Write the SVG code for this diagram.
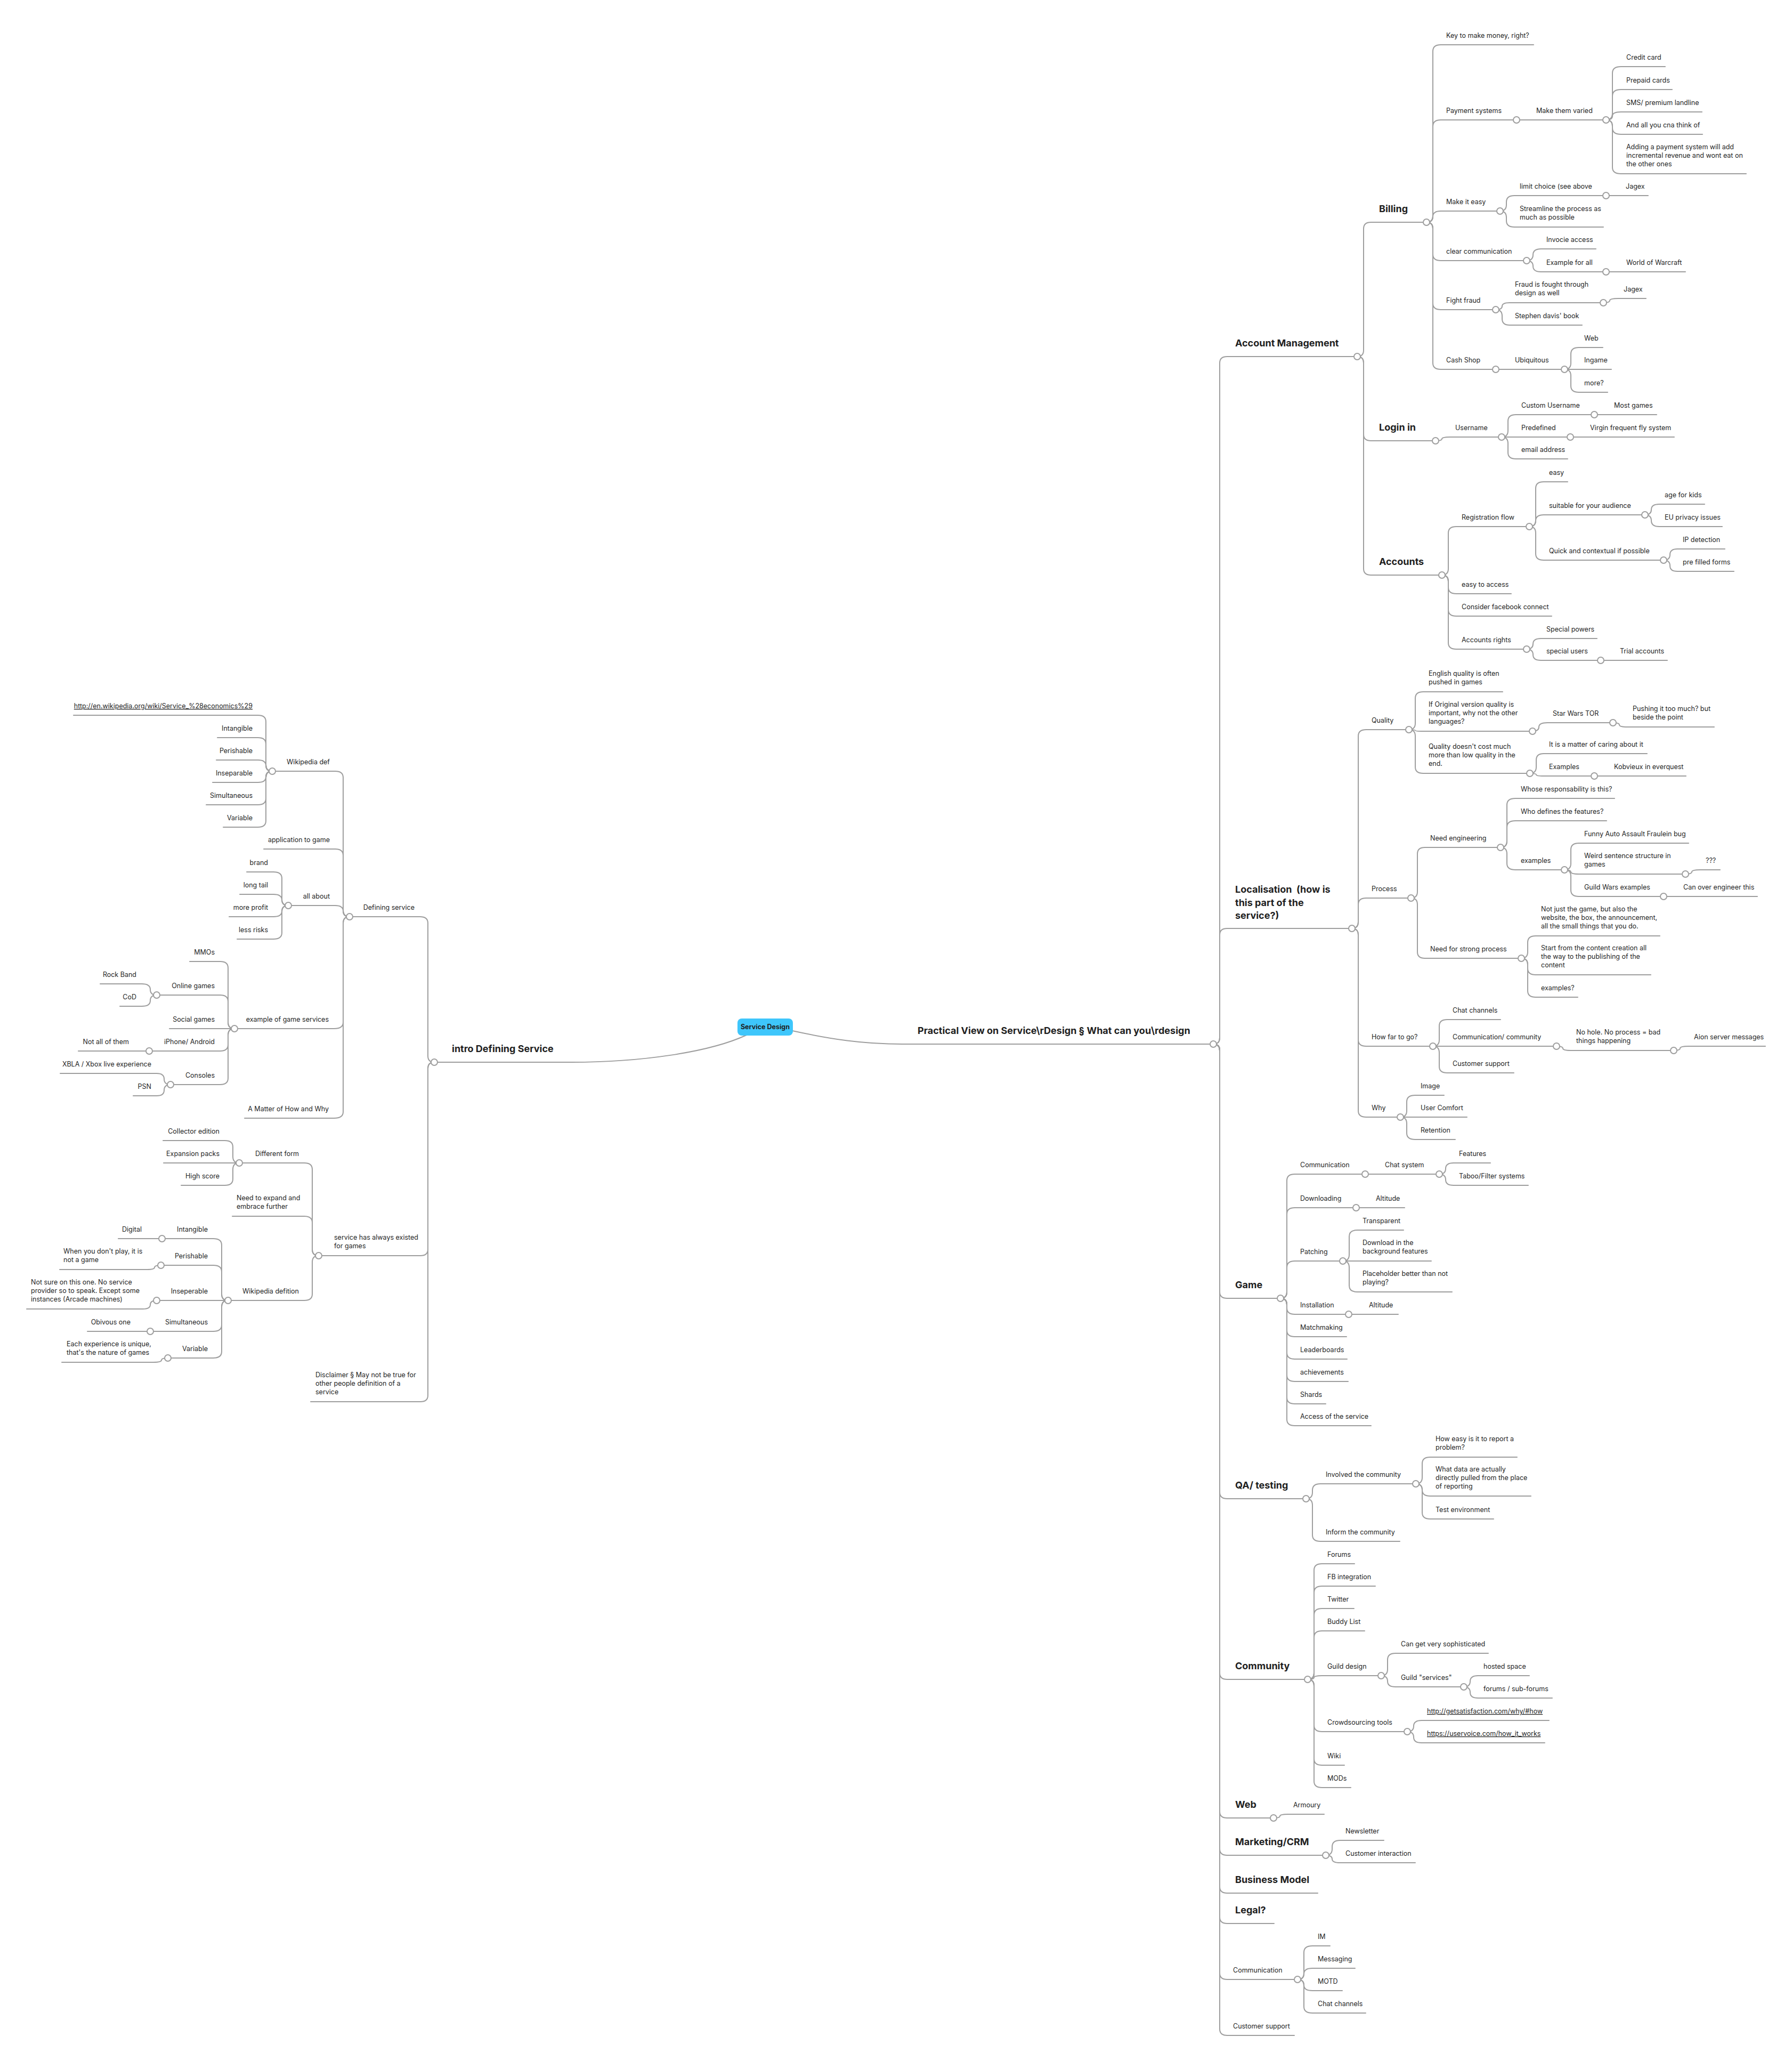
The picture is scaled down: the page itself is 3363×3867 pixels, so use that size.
<svg xmlns="http://www.w3.org/2000/svg" width="3363" height="3867" viewBox="0 0 3363 3867">
<style>
.t{font-family:Inter,"Liberation Sans",sans-serif;font-size:12.5px;fill:#1e1e1e}
.b{font-weight:700;font-size:18px}
.e{text-anchor:end}
.k{text-decoration:underline}
.l{stroke:#9e9e9e;stroke-width:2;fill:none;stroke-linecap:round}
.c{fill:#fff;stroke:#9e9e9e;stroke-width:2}
</style>
<rect width="3363" height="3867" fill="#fff"/>
<g id="connectors" class="l">
<path d="M1073 1993C1200 1993 1330 1975 1401 1942"/>
<path d="M1487 1934C1560 1950 1620 1959 1693 1959"/>
<path d="M2277 1959Q2289 1959 2289 1947L2289 681Q2289 669 2303 669"/>
<path d="M2277 1959Q2289 1959 2289 1947L2289 1754Q2289 1742 2303 1742"/>
<path d="M2277 1959Q2289 1959 2289 1971L2289 2424Q2289 2436 2303 2436"/>
<path d="M2277 1959Q2289 1959 2289 1971L2289 2800Q2289 2812 2303 2812"/>
<path d="M2277 1959Q2289 1959 2289 1971L2289 3139Q2289 3151 2303 3151"/>
<path d="M2277 1959Q2289 1959 2289 1971L2289 3399Q2289 3411 2303 3411"/>
<path d="M2277 1959Q2289 1959 2289 1971L2289 3469Q2289 3481 2303 3481"/>
<path d="M2277 1959Q2289 1959 2289 1971L2289 3540Q2289 3552 2303 3552"/>
<path d="M2277 1959Q2289 1959 2289 1971L2289 3597Q2289 3609 2303 3609"/>
<path d="M2277 1959Q2289 1959 2289 1971L2289 3702Q2289 3714 2303 3714"/>
<path d="M2277 1959Q2289 1959 2289 1971L2289 3807Q2289 3819 2303 3819"/>
<path d="M2547 669Q2559 669 2559 657L2559 429Q2559 417 2573 417"/>
<path d="M2547 669Q2559 669 2559 681L2559 815Q2559 827 2573 827"/>
<path d="M2547 669Q2559 669 2559 681L2559 1067Q2559 1079 2573 1079"/>
<path d="M2677 417Q2689 417 2689 405L2689 96Q2689 84 2704 84"/>
<path d="M2677 417Q2689 417 2689 405L2689 237Q2689 225 2704 225"/>
<path d="M2677 417Q2689 417 2689 406.5Q2689 396 2704 396"/>
<path d="M2677 417Q2689 417 2689 429L2689 477Q2689 489 2704 489"/>
<path d="M2677 417Q2689 417 2689 429L2689 569Q2689 581 2704 581"/>
<path d="M2677 417Q2689 417 2689 429L2689 681Q2689 693 2704 693"/>
<path d="M2846 225L2873 225"/>
<path d="M3014 225Q3026 225 3026 213L3026 137Q3026 125 3042 125"/>
<path d="M3014 225Q3026 225 3026 213L3026 180Q3026 168 3042 168"/>
<path d="M3014 225Q3026 225 3026 217.5Q3026 210 3042 210"/>
<path d="M3014 225Q3026 225 3026 237L3026 240Q3026 252 3042 252"/>
<path d="M3014 225Q3026 225 3026 237L3026 314Q3026 326 3042 326"/>
<path d="M2815 396Q2827 396 2827 384L2827 379Q2827 367 2842 367"/>
<path d="M2815 396Q2827 396 2827 408L2827 414Q2827 426 2842 426"/>
<path d="M3014 367L3041 367"/>
<path d="M2865 489Q2877 489 2877 478Q2877 467 2892 467"/>
<path d="M2865 489Q2877 489 2877 499.5Q2877 510 2892 510"/>
<path d="M3014 510L3042 510"/>
<path d="M2807 581Q2819 581 2819 574.5Q2819 568 2833 568"/>
<path d="M2807 581Q2819 581 2819 593L2819 598Q2819 610 2833 610"/>
<path d="M3009 568Q3021 568 3021 564Q3021 560 3037 560"/>
<path d="M2807 693L2833 693"/>
<path d="M2936 693Q2948 693 2948 681L2948 664Q2948 652 2963 652"/>
<path d="M2936 693L2963 693"/>
<path d="M2936 693Q2948 693 2948 705L2948 724Q2948 736 2963 736"/>
<path d="M2694 827Q2706 827 2706 823.5Q2706 820 2721 820"/>
<path d="M2818 820Q2830 820 2830 808L2830 790Q2830 778 2845 778"/>
<path d="M2818 820L2845 820"/>
<path d="M2818 820Q2830 820 2830 832L2830 849Q2830 861 2845 861"/>
<path d="M2992 778L3019 778"/>
<path d="M2947 820L2974 820"/>
<path d="M2706 1079Q2718 1079 2718 1067L2718 1000Q2718 988 2733 988"/>
<path d="M2706 1079Q2718 1079 2718 1091L2718 1102Q2718 1114 2733 1114"/>
<path d="M2706 1079Q2718 1079 2718 1091L2718 1144Q2718 1156 2733 1156"/>
<path d="M2706 1079Q2718 1079 2718 1091L2718 1206Q2718 1218 2733 1218"/>
<path d="M2870 988Q2882 988 2882 976L2882 916Q2882 904 2897 904"/>
<path d="M2870 988Q2882 988 2882 977Q2882 966 2897 966"/>
<path d="M2870 988Q2882 988 2882 1000L2882 1039Q2882 1051 2897 1051"/>
<path d="M3087 966Q3099 966 3099 956Q3099 946 3114 946"/>
<path d="M3087 966Q3099 966 3099 977Q3099 988 3114 988"/>
<path d="M3122 1051Q3134 1051 3134 1040.5Q3134 1030 3148 1030"/>
<path d="M3122 1051Q3134 1051 3134 1061.5Q3134 1072 3148 1072"/>
<path d="M2865 1218Q2877 1218 2877 1208Q2877 1198 2892 1198"/>
<path d="M2865 1218Q2877 1218 2877 1228.5Q2877 1239 2892 1239"/>
<path d="M3004 1239L3030 1239"/>
<path d="M2537 1742Q2549 1742 2549 1730L2549 1381Q2549 1369 2564 1369"/>
<path d="M2537 1742Q2549 1742 2549 1730L2549 1697Q2549 1685 2564 1685"/>
<path d="M2537 1742Q2549 1742 2549 1754L2549 1951Q2549 1963 2564 1963"/>
<path d="M2537 1742Q2549 1742 2549 1754L2549 2084Q2549 2096 2564 2096"/>
<path d="M2644 1369Q2656 1369 2656 1357L2656 1310Q2656 1298 2671 1298"/>
<path d="M2644 1369Q2656 1369 2656 1370.5Q2656 1372 2671 1372"/>
<path d="M2644 1369Q2656 1369 2656 1381L2656 1439Q2656 1451 2671 1451"/>
<path d="M2876 1372Q2888 1372 2888 1364Q2888 1356 2904 1356"/>
<path d="M3027 1356Q3039 1356 3039 1360Q3039 1364 3054 1364"/>
<path d="M2871 1451Q2883 1451 2883 1439L2883 1426Q2883 1414 2897 1414"/>
<path d="M2871 1451Q2883 1451 2883 1453.5Q2883 1456 2897 1456"/>
<path d="M2992 1456L3019 1456"/>
<path d="M2648 1685Q2660 1685 2660 1673L2660 1602Q2660 1590 2674 1590"/>
<path d="M2648 1685Q2660 1685 2660 1697L2660 1786Q2660 1798 2674 1798"/>
<path d="M2816 1590Q2828 1590 2828 1578L2828 1510Q2828 1498 2844 1498"/>
<path d="M2816 1590Q2828 1590 2828 1578L2828 1552Q2828 1540 2844 1540"/>
<path d="M2816 1590Q2828 1590 2828 1602L2828 1620Q2828 1632 2844 1632"/>
<path d="M2936 1632Q2948 1632 2948 1620L2948 1594Q2948 1582 2963 1582"/>
<path d="M2936 1632Q2948 1632 2948 1636Q2948 1640 2963 1640"/>
<path d="M2936 1632Q2948 1632 2948 1644L2948 1670Q2948 1682 2963 1682"/>
<path d="M3163 1640Q3175 1640 3175 1636Q3175 1632 3191 1632"/>
<path d="M3122 1682L3149 1682"/>
<path d="M2855 1798Q2867 1798 2867 1786L2867 1768Q2867 1756 2882 1756"/>
<path d="M2855 1798Q2867 1798 2867 1810L2867 1817Q2867 1829 2882 1829"/>
<path d="M2855 1798Q2867 1798 2867 1810L2867 1859Q2867 1871 2882 1871"/>
<path d="M2689 1963Q2701 1963 2701 1951L2701 1925Q2701 1913 2716 1913"/>
<path d="M2689 1963L2716 1963"/>
<path d="M2689 1963Q2701 1963 2701 1975L2701 2001Q2701 2013 2716 2013"/>
<path d="M2921 1963Q2933 1963 2933 1967Q2933 1971 2948 1971"/>
<path d="M3141 1971Q3153 1971 3153 1967Q3153 1963 3169 1963"/>
<path d="M2628 2096Q2640 2096 2640 2084L2640 2067Q2640 2055 2656 2055"/>
<path d="M2628 2096L2656 2096"/>
<path d="M2628 2096Q2640 2096 2640 2108L2640 2126Q2640 2138 2656 2138"/>
<path d="M2403 2436Q2415 2436 2415 2424L2415 2215Q2415 2203 2430 2203"/>
<path d="M2403 2436Q2415 2436 2415 2424L2415 2278Q2415 2266 2430 2266"/>
<path d="M2403 2436Q2415 2436 2415 2424L2415 2378Q2415 2366 2430 2366"/>
<path d="M2403 2436Q2415 2436 2415 2448L2415 2454Q2415 2466 2430 2466"/>
<path d="M2403 2436Q2415 2436 2415 2448L2415 2496Q2415 2508 2430 2508"/>
<path d="M2403 2436Q2415 2436 2415 2448L2415 2538Q2415 2550 2430 2550"/>
<path d="M2403 2436Q2415 2436 2415 2448L2415 2580Q2415 2592 2430 2592"/>
<path d="M2403 2436Q2415 2436 2415 2448L2415 2622Q2415 2634 2430 2634"/>
<path d="M2403 2436Q2415 2436 2415 2448L2415 2663Q2415 2675 2430 2675"/>
<path d="M2562 2203L2589 2203"/>
<path d="M2701 2203Q2713 2203 2713 2192.5Q2713 2182 2728 2182"/>
<path d="M2701 2203Q2713 2203 2713 2213.5Q2713 2224 2728 2224"/>
<path d="M2545 2266L2572 2266"/>
<path d="M2520 2366Q2532 2366 2532 2354L2532 2320Q2532 2308 2547 2308"/>
<path d="M2520 2366L2547 2366"/>
<path d="M2520 2366Q2532 2366 2532 2378L2532 2412Q2532 2424 2547 2424"/>
<path d="M2531 2466L2559 2466"/>
<path d="M2451 2812Q2463 2812 2463 2800L2463 2796Q2463 2784 2478 2784"/>
<path d="M2451 2812Q2463 2812 2463 2824L2463 2880Q2463 2892 2478 2892"/>
<path d="M2657 2784Q2669 2784 2669 2772L2669 2746Q2669 2734 2684 2734"/>
<path d="M2657 2784Q2669 2784 2669 2795.5Q2669 2807 2684 2807"/>
<path d="M2657 2784Q2669 2784 2669 2796L2669 2838Q2669 2850 2684 2850"/>
<path d="M2454 3151Q2466 3151 2466 3139L2466 2946Q2466 2934 2481 2934"/>
<path d="M2454 3151Q2466 3151 2466 3139L2466 2988Q2466 2976 2481 2976"/>
<path d="M2454 3151Q2466 3151 2466 3139L2466 3030Q2466 3018 2481 3018"/>
<path d="M2454 3151Q2466 3151 2466 3139L2466 3072Q2466 3060 2481 3060"/>
<path d="M2454 3151Q2466 3151 2466 3147.5Q2466 3144 2481 3144"/>
<path d="M2454 3151Q2466 3151 2466 3163L2466 3237Q2466 3249 2481 3249"/>
<path d="M2454 3151Q2466 3151 2466 3163L2466 3300Q2466 3312 2481 3312"/>
<path d="M2454 3151Q2466 3151 2466 3163L2466 3342Q2466 3354 2481 3354"/>
<path d="M2592 3144Q2604 3144 2604 3132L2604 3114Q2604 3102 2619 3102"/>
<path d="M2592 3144Q2604 3144 2604 3154.5Q2604 3165 2619 3165"/>
<path d="M2747 3165Q2759 3165 2759 3154.5Q2759 3144 2774 3144"/>
<path d="M2747 3165Q2759 3165 2759 3175.5Q2759 3186 2774 3186"/>
<path d="M2641 3249Q2653 3249 2653 3238.5Q2653 3228 2668 3228"/>
<path d="M2641 3249Q2653 3249 2653 3259.5Q2653 3270 2668 3270"/>
<path d="M2390 3411Q2402 3411 2402 3407.5Q2402 3404 2417 3404"/>
<path d="M2488 3481Q2500 3481 2500 3469L2500 3465Q2500 3453 2515 3453"/>
<path d="M2488 3481Q2500 3481 2500 3488Q2500 3495 2515 3495"/>
<path d="M2435 3714Q2447 3714 2447 3702L2447 3663Q2447 3651 2463 3651"/>
<path d="M2435 3714Q2447 3714 2447 3703.5Q2447 3693 2463 3693"/>
<path d="M2435 3714Q2447 3714 2447 3724.5Q2447 3735 2463 3735"/>
<path d="M2435 3714Q2447 3714 2447 3726L2447 3765Q2447 3777 2463 3777"/>
<path d="M815 1993Q803 1993 803 1981L803 1732Q803 1720 788 1720"/>
<path d="M815 1993Q803 1993 803 2005L803 2344Q803 2356 789 2356"/>
<path d="M815 1993Q803 1993 803 2005L803 2618Q803 2630 789 2630"/>
<path d="M656 1720Q644 1720 644 1708L644 1459Q644 1447 629 1447"/>
<path d="M656 1720Q644 1720 644 1708L644 1605Q644 1593 629 1593"/>
<path d="M656 1720Q644 1720 644 1709.5Q644 1699 629 1699"/>
<path d="M656 1720Q644 1720 644 1732L644 1918Q644 1930 627 1930"/>
<path d="M656 1720Q644 1720 644 1732L644 2086Q644 2098 627 2098"/>
<path d="M511 1447Q499 1447 499 1435L499 1354Q499 1342 484 1342"/>
<path d="M511 1447Q499 1447 499 1435L499 1396Q499 1384 484 1384"/>
<path d="M511 1447Q499 1447 499 1436.5Q499 1426 484 1426"/>
<path d="M511 1447Q499 1447 499 1457.5Q499 1468 484 1468"/>
<path d="M511 1447Q499 1447 499 1459L499 1498Q499 1510 484 1510"/>
<path d="M511 1447Q499 1447 499 1459L499 1540Q499 1552 484 1552"/>
<path d="M541 1699Q529 1699 529 1687L529 1648Q529 1636 513 1636"/>
<path d="M541 1699Q529 1699 529 1688.5Q529 1678 513 1678"/>
<path d="M541 1699Q529 1699 529 1709.5Q529 1720 513 1720"/>
<path d="M541 1699Q529 1699 529 1711L529 1750Q529 1762 513 1762"/>
<path d="M440 1930Q428 1930 428 1918L428 1816Q428 1804 413 1804"/>
<path d="M440 1930Q428 1930 428 1918L428 1879Q428 1867 413 1867"/>
<path d="M440 1930L413 1930"/>
<path d="M440 1930Q428 1930 428 1942L428 1960Q428 1972 413 1972"/>
<path d="M440 1930Q428 1930 428 1942L428 2023Q428 2035 413 2035"/>
<path d="M294 1867Q282 1867 282 1856.5Q282 1846 266 1846"/>
<path d="M294 1867Q282 1867 282 1877.5Q282 1888 266 1888"/>
<path d="M280 1972L252 1972"/>
<path d="M320 2035Q308 2035 308 2024.5Q308 2014 294 2014"/>
<path d="M320 2035Q308 2035 308 2045.5Q308 2056 294 2056"/>
<path d="M598 2356Q586 2356 586 2344L586 2194Q586 2182 571 2182"/>
<path d="M598 2356Q586 2356 586 2344L586 2294Q586 2282 571 2282"/>
<path d="M598 2356Q586 2356 586 2368L586 2428Q586 2440 571 2440"/>
<path d="M449 2182Q437 2182 437 2170L437 2152Q437 2140 422 2140"/>
<path d="M449 2182L422 2182"/>
<path d="M449 2182Q437 2182 437 2194L437 2212Q437 2224 422 2224"/>
<path d="M428 2440Q416 2440 416 2428L416 2336Q416 2324 400 2324"/>
<path d="M428 2440Q416 2440 416 2428L416 2386Q416 2374 400 2374"/>
<path d="M428 2440L400 2440"/>
<path d="M428 2440Q416 2440 416 2452L416 2486Q416 2498 400 2498"/>
<path d="M428 2440Q416 2440 416 2452L416 2536Q416 2548 400 2548"/>
<path d="M304 2324L276 2324"/>
<path d="M302 2374Q290 2374 290 2378Q290 2382 276 2382"/>
<path d="M294 2440Q282 2440 282 2448Q282 2456 268 2456"/>
<path d="M282 2498L255 2498"/>
<path d="M315 2548Q303 2548 303 2552Q303 2556 288 2556"/>
</g>
<g id="n-root"><rect x="1384" y="1911" width="104" height="32" rx="8" fill="#3ec6fb"/><text class="t b" x="1436" y="1931" text-anchor="middle" style="font-size:12.5px">Service Design</text></g>
<g id="n-practical"><line class="l" x1="1693" y1="1959" x2="2277" y2="1959"/><text class="t b" x="1722" y="1940">Practical View on Service\rDesign § What can you\rdesign</text><circle class="c" cx="2277" cy="1959" r="6"/></g>
<g id="n-accmgmt"><line class="l" x1="2303" y1="669" x2="2547" y2="669"/><text class="t b" x="2318" y="650">Account Management</text><circle class="c" cx="2547" cy="669" r="6"/></g>
<g id="n-billing"><line class="l" x1="2573" y1="417" x2="2677" y2="417"/><text class="t b" x="2588" y="398">Billing</text><circle class="c" cx="2677" cy="417" r="6"/></g>
<g id="n-key"><line class="l" x1="2704" y1="84" x2="2878" y2="84"/><text class="t" x="2714" y="71">Key to make money, right?</text></g>
<g id="n-payment"><line class="l" x1="2704" y1="225" x2="2846" y2="225"/><text class="t" x="2714" y="212">Payment systems</text><circle class="c" cx="2846" cy="225" r="6"/></g>
<g id="n-varied"><line class="l" x1="2873" y1="225" x2="3014" y2="225"/><text class="t" x="2883" y="212">Make them varied</text><circle class="c" cx="3014" cy="225" r="6"/></g>
<g id="n-credit"><line class="l" x1="3042" y1="125" x2="3125" y2="125"/><text class="t" x="3052" y="112">Credit card</text></g>
<g id="n-prepaid"><line class="l" x1="3042" y1="168" x2="3138" y2="168"/><text class="t" x="3052" y="155">Prepaid cards</text></g>
<g id="n-sms"><line class="l" x1="3042" y1="210" x2="3194" y2="210"/><text class="t" x="3052" y="197">SMS/ premium landline</text></g>
<g id="n-allyou"><line class="l" x1="3042" y1="252" x2="3195" y2="252"/><text class="t" x="3052" y="239">And all you cna think of</text></g>
<g id="n-adding"><line class="l" x1="3042" y1="326" x2="3277" y2="326"/><text class="t" x="3052" y="280"><tspan x="3052">Adding a payment system will add</tspan><tspan x="3052" dy="16">incremental revenue and wont eat on</tspan><tspan x="3052" dy="16">the other ones</tspan></text></g>
<g id="n-easy"><line class="l" x1="2704" y1="396" x2="2815" y2="396"/><text class="t" x="2714" y="383">Make it easy</text><circle class="c" cx="2815" cy="396" r="6"/></g>
<g id="n-limit"><line class="l" x1="2842" y1="367" x2="3014" y2="367"/><text class="t" x="2852" y="354">limit choice (see above</text><circle class="c" cx="3014" cy="367" r="6"/></g>
<g id="n-jagex1"><line class="l" x1="3041" y1="367" x2="3093" y2="367"/><text class="t" x="3051" y="354">Jagex</text></g>
<g id="n-streamline"><line class="l" x1="2842" y1="426" x2="3009" y2="426"/><text class="t" x="2852" y="396"><tspan x="2852">Streamline the process as</tspan><tspan x="2852" dy="16">much as possible</tspan></text></g>
<g id="n-clear"><line class="l" x1="2704" y1="489" x2="2865" y2="489"/><text class="t" x="2714" y="476">clear communication</text><circle class="c" cx="2865" cy="489" r="6"/></g>
<g id="n-invoice"><line class="l" x1="2892" y1="467" x2="2995" y2="467"/><text class="t" x="2902" y="454">Invocie access</text></g>
<g id="n-example"><line class="l" x1="2892" y1="510" x2="3014" y2="510"/><text class="t" x="2902" y="497">Example for all</text><circle class="c" cx="3014" cy="510" r="6"/></g>
<g id="n-wow"><line class="l" x1="3042" y1="510" x2="3163" y2="510"/><text class="t" x="3052" y="497">World of Warcraft</text></g>
<g id="n-fraud"><line class="l" x1="2704" y1="581" x2="2807" y2="581"/><text class="t" x="2714" y="568">Fight fraud</text><circle class="c" cx="2807" cy="581" r="6"/></g>
<g id="n-fought"><line class="l" x1="2833" y1="568" x2="3009" y2="568"/><text class="t" x="2843" y="538"><tspan x="2843">Fraud is fought through</tspan><tspan x="2843" dy="16">design as well</tspan></text><circle class="c" cx="3009" cy="568" r="6"/></g>
<g id="n-jagex2"><line class="l" x1="3037" y1="560" x2="3089" y2="560"/><text class="t" x="3047" y="547">Jagex</text></g>
<g id="n-stephen"><line class="l" x1="2833" y1="610" x2="2969" y2="610"/><text class="t" x="2843" y="597">Stephen davis' book</text></g>
<g id="n-cashshop"><line class="l" x1="2704" y1="693" x2="2807" y2="693"/><text class="t" x="2714" y="680">Cash Shop</text><circle class="c" cx="2807" cy="693" r="6"/></g>
<g id="n-ubiq"><line class="l" x1="2833" y1="693" x2="2936" y2="693"/><text class="t" x="2843" y="680">Ubiquitous</text><circle class="c" cx="2936" cy="693" r="6"/></g>
<g id="n-web1"><line class="l" x1="2963" y1="652" x2="3008" y2="652"/><text class="t" x="2973" y="639">Web</text></g>
<g id="n-ingame"><line class="l" x1="2963" y1="693" x2="3024" y2="693"/><text class="t" x="2973" y="680">Ingame</text></g>
<g id="n-more"><line class="l" x1="2963" y1="736" x2="3017" y2="736"/><text class="t" x="2973" y="723">more?</text></g>
<g id="n-login"><line class="l" x1="2573" y1="827" x2="2694" y2="827"/><text class="t b" x="2588" y="808">Login in</text><circle class="c" cx="2694" cy="827" r="6"/></g>
<g id="n-username"><line class="l" x1="2721" y1="820" x2="2818" y2="820"/><text class="t" x="2731" y="807">Username</text><circle class="c" cx="2818" cy="820" r="6"/></g>
<g id="n-custom"><line class="l" x1="2845" y1="778" x2="2992" y2="778"/><text class="t" x="2855" y="765">Custom Username</text><circle class="c" cx="2992" cy="778" r="6"/></g>
<g id="n-most"><line class="l" x1="3019" y1="778" x2="3109" y2="778"/><text class="t" x="3029" y="765">Most games</text></g>
<g id="n-predef"><line class="l" x1="2845" y1="820" x2="2947" y2="820"/><text class="t" x="2855" y="807">Predefined</text><circle class="c" cx="2947" cy="820" r="6"/></g>
<g id="n-virgin"><line class="l" x1="2974" y1="820" x2="3142" y2="820"/><text class="t" x="2984" y="807">Virgin frequent fly system</text></g>
<g id="n-email"><line class="l" x1="2845" y1="861" x2="2942" y2="861"/><text class="t" x="2855" y="848">email address</text></g>
<g id="n-accounts"><line class="l" x1="2573" y1="1079" x2="2706" y2="1079"/><text class="t b" x="2588" y="1060">Accounts</text><circle class="c" cx="2706" cy="1079" r="6"/></g>
<g id="n-reg"><line class="l" x1="2733" y1="988" x2="2870" y2="988"/><text class="t" x="2743" y="975">Registration flow</text><circle class="c" cx="2870" cy="988" r="6"/></g>
<g id="n-easy2"><line class="l" x1="2897" y1="904" x2="2942" y2="904"/><text class="t" x="2907" y="891">easy</text></g>
<g id="n-suitable"><line class="l" x1="2897" y1="966" x2="3087" y2="966"/><text class="t" x="2907" y="953">suitable for your audience</text><circle class="c" cx="3087" cy="966" r="6"/></g>
<g id="n-age"><line class="l" x1="3114" y1="946" x2="3199" y2="946"/><text class="t" x="3124" y="933">age for kids</text></g>
<g id="n-eu"><line class="l" x1="3114" y1="988" x2="3232" y2="988"/><text class="t" x="3124" y="975">EU privacy issues</text></g>
<g id="n-quick"><line class="l" x1="2897" y1="1051" x2="3122" y2="1051"/><text class="t" x="2907" y="1038">Quick and contextual if possible</text><circle class="c" cx="3122" cy="1051" r="6"/></g>
<g id="n-ip"><line class="l" x1="3148" y1="1030" x2="3237" y2="1030"/><text class="t" x="3158" y="1017">IP detection</text></g>
<g id="n-prefill"><line class="l" x1="3148" y1="1072" x2="3254" y2="1072"/><text class="t" x="3158" y="1059">pre filled forms</text></g>
<g id="n-easyaccess"><line class="l" x1="2733" y1="1114" x2="2836" y2="1114"/><text class="t" x="2743" y="1101">easy to access</text></g>
<g id="n-facebook"><line class="l" x1="2733" y1="1156" x2="2912" y2="1156"/><text class="t" x="2743" y="1143">Consider facebook connect</text></g>
<g id="n-rights"><line class="l" x1="2733" y1="1218" x2="2865" y2="1218"/><text class="t" x="2743" y="1205">Accounts rights</text><circle class="c" cx="2865" cy="1218" r="6"/></g>
<g id="n-powers"><line class="l" x1="2892" y1="1198" x2="2997" y2="1198"/><text class="t" x="2902" y="1185">Special powers</text></g>
<g id="n-specialusers"><line class="l" x1="2892" y1="1239" x2="3004" y2="1239"/><text class="t" x="2902" y="1226">special users</text><circle class="c" cx="3004" cy="1239" r="6"/></g>
<g id="n-trial"><line class="l" x1="3030" y1="1239" x2="3129" y2="1239"/><text class="t" x="3040" y="1226">Trial accounts</text></g>
<g id="n-local"><line class="l" x1="2303" y1="1742" x2="2537" y2="1742"/><text class="t b" x="2318" y="1675" xml:space="preserve"><tspan x="2318">Localisation  (how is</tspan><tspan x="2318" dy="24.5">this part of the</tspan><tspan x="2318" dy="24.5">service?)</tspan></text><circle class="c" cx="2537" cy="1742" r="6"/></g>
<g id="n-quality"><line class="l" x1="2564" y1="1369" x2="2644" y2="1369"/><text class="t" x="2574" y="1356">Quality</text><circle class="c" cx="2644" cy="1369" r="6"/></g>
<g id="n-english"><line class="l" x1="2671" y1="1298" x2="2820" y2="1298"/><text class="t" x="2681" y="1268"><tspan x="2681">English quality is often</tspan><tspan x="2681" dy="16">pushed in games</tspan></text></g>
<g id="n-original"><line class="l" x1="2671" y1="1372" x2="2876" y2="1372"/><text class="t" x="2681" y="1326"><tspan x="2681">If Original version quality is</tspan><tspan x="2681" dy="16">important, why not the other</tspan><tspan x="2681" dy="16">languages?</tspan></text><circle class="c" cx="2876" cy="1372" r="6"/></g>
<g id="n-swtor"><line class="l" x1="2904" y1="1356" x2="3027" y2="1356"/><text class="t" x="2914" y="1343">Star Wars TOR</text><circle class="c" cx="3027" cy="1356" r="6"/></g>
<g id="n-pushing"><line class="l" x1="3054" y1="1364" x2="3217" y2="1364"/><text class="t" x="3064" y="1334"><tspan x="3064">Pushing it too much? but</tspan><tspan x="3064" dy="16">beside the point</tspan></text></g>
<g id="n-qcost"><line class="l" x1="2671" y1="1451" x2="2871" y2="1451"/><text class="t" x="2681" y="1405"><tspan x="2681">Quality doesn't cost much</tspan><tspan x="2681" dy="16">more than low quality in the</tspan><tspan x="2681" dy="16">end.</tspan></text><circle class="c" cx="2871" cy="1451" r="6"/></g>
<g id="n-caring"><line class="l" x1="2897" y1="1414" x2="3091" y2="1414"/><text class="t" x="2907" y="1401">It is a matter of caring about it</text></g>
<g id="n-examples1"><line class="l" x1="2897" y1="1456" x2="2992" y2="1456"/><text class="t" x="2907" y="1443">Examples</text><circle class="c" cx="2992" cy="1456" r="6"/></g>
<g id="n-kobvieux"><line class="l" x1="3019" y1="1456" x2="3164" y2="1456"/><text class="t" x="3029" y="1443">Kobvieux in everquest</text></g>
<g id="n-process"><line class="l" x1="2564" y1="1685" x2="2648" y2="1685"/><text class="t" x="2574" y="1672">Process</text><circle class="c" cx="2648" cy="1685" r="6"/></g>
<g id="n-needeng"><line class="l" x1="2674" y1="1590" x2="2816" y2="1590"/><text class="t" x="2684" y="1577">Need engineering</text><circle class="c" cx="2816" cy="1590" r="6"/></g>
<g id="n-whose"><line class="l" x1="2844" y1="1498" x2="3030" y2="1498"/><text class="t" x="2854" y="1485">Whose responsability is this?</text></g>
<g id="n-whodef"><line class="l" x1="2844" y1="1540" x2="3015" y2="1540"/><text class="t" x="2854" y="1527">Who defines the features?</text></g>
<g id="n-examples2"><line class="l" x1="2844" y1="1632" x2="2936" y2="1632"/><text class="t" x="2854" y="1619">examples</text><circle class="c" cx="2936" cy="1632" r="6"/></g>
<g id="n-funny"><line class="l" x1="2963" y1="1582" x2="3169" y2="1582"/><text class="t" x="2973" y="1569">Funny Auto Assault Fraulein bug</text></g>
<g id="n-weird"><line class="l" x1="2963" y1="1640" x2="3163" y2="1640"/><text class="t" x="2973" y="1610"><tspan x="2973">Weird sentence structure in</tspan><tspan x="2973" dy="16">games</tspan></text><circle class="c" cx="3163" cy="1640" r="6"/></g>
<g id="n-qqq"><line class="l" x1="3191" y1="1632" x2="3228" y2="1632"/><text class="t" x="3201" y="1619">???</text></g>
<g id="n-guildwars"><line class="l" x1="2963" y1="1682" x2="3122" y2="1682"/><text class="t" x="2973" y="1669">Guild Wars examples</text><circle class="c" cx="3122" cy="1682" r="6"/></g>
<g id="n-overeng"><line class="l" x1="3149" y1="1682" x2="3298" y2="1682"/><text class="t" x="3159" y="1669">Can over engineer this</text></g>
<g id="n-strong"><line class="l" x1="2674" y1="1798" x2="2855" y2="1798"/><text class="t" x="2684" y="1785">Need for strong process</text><circle class="c" cx="2855" cy="1798" r="6"/></g>
<g id="n-notjust"><line class="l" x1="2882" y1="1756" x2="3115" y2="1756"/><text class="t" x="2892" y="1710"><tspan x="2892">Not just the game, but also the</tspan><tspan x="2892" dy="16">website, the box, the announcement,</tspan><tspan x="2892" dy="16">all the small things that you do.</tspan></text></g>
<g id="n-startfrom"><line class="l" x1="2882" y1="1829" x2="3098" y2="1829"/><text class="t" x="2892" y="1783"><tspan x="2892">Start from the content creation all</tspan><tspan x="2892" dy="16">the way to the publishing of the</tspan><tspan x="2892" dy="16">content</tspan></text></g>
<g id="n-examples3"><line class="l" x1="2882" y1="1871" x2="2961" y2="1871"/><text class="t" x="2892" y="1858">examples?</text></g>
<g id="n-howfar"><line class="l" x1="2564" y1="1963" x2="2689" y2="1963"/><text class="t" x="2574" y="1950">How far to go?</text><circle class="c" cx="2689" cy="1963" r="6"/></g>
<g id="n-chatch1"><line class="l" x1="2716" y1="1913" x2="2816" y2="1913"/><text class="t" x="2726" y="1900">Chat channels</text></g>
<g id="n-commcomm"><line class="l" x1="2716" y1="1963" x2="2921" y2="1963"/><text class="t" x="2726" y="1950">Communication/ community</text><circle class="c" cx="2921" cy="1963" r="6"/></g>
<g id="n-nohole"><line class="l" x1="2948" y1="1971" x2="3141" y2="1971"/><text class="t" x="2958" y="1941"><tspan x="2958">No hole. No process = bad</tspan><tspan x="2958" dy="16">things happening</tspan></text><circle class="c" cx="3141" cy="1971" r="6"/></g>
<g id="n-aion"><line class="l" x1="3169" y1="1963" x2="3313" y2="1963"/><text class="t" x="3179" y="1950">Aion server messages</text></g>
<g id="n-custsup1"><line class="l" x1="2716" y1="2013" x2="2841" y2="2013"/><text class="t" x="2726" y="2000">Customer support</text></g>
<g id="n-why"><line class="l" x1="2564" y1="2096" x2="2628" y2="2096"/><text class="t" x="2574" y="2083">Why</text><circle class="c" cx="2628" cy="2096" r="6"/></g>
<g id="n-image"><line class="l" x1="2656" y1="2055" x2="2710" y2="2055"/><text class="t" x="2666" y="2042">Image</text></g>
<g id="n-comfort"><line class="l" x1="2656" y1="2096" x2="2753" y2="2096"/><text class="t" x="2666" y="2083">User Comfort</text></g>
<g id="n-retention"><line class="l" x1="2656" y1="2138" x2="2731" y2="2138"/><text class="t" x="2666" y="2125">Retention</text></g>
<g id="n-game"><line class="l" x1="2303" y1="2436" x2="2403" y2="2436"/><text class="t b" x="2318" y="2417">Game</text><circle class="c" cx="2403" cy="2436" r="6"/></g>
<g id="n-gcomm"><line class="l" x1="2430" y1="2203" x2="2562" y2="2203"/><text class="t" x="2440" y="2190">Communication</text><circle class="c" cx="2562" cy="2203" r="6"/></g>
<g id="n-chatsys"><line class="l" x1="2589" y1="2203" x2="2701" y2="2203"/><text class="t" x="2599" y="2190">Chat system</text><circle class="c" cx="2701" cy="2203" r="6"/></g>
<g id="n-features"><line class="l" x1="2728" y1="2182" x2="2797" y2="2182"/><text class="t" x="2738" y="2169">Features</text></g>
<g id="n-taboo"><line class="l" x1="2728" y1="2224" x2="2868" y2="2224"/><text class="t" x="2738" y="2211">Taboo/Filter systems</text></g>
<g id="n-download"><line class="l" x1="2430" y1="2266" x2="2545" y2="2266"/><text class="t" x="2440" y="2253">Downloading</text><circle class="c" cx="2545" cy="2266" r="6"/></g>
<g id="n-alt1"><line class="l" x1="2572" y1="2266" x2="2636" y2="2266"/><text class="t" x="2582" y="2253">Altitude</text></g>
<g id="n-patching"><line class="l" x1="2430" y1="2366" x2="2520" y2="2366"/><text class="t" x="2440" y="2353">Patching</text><circle class="c" cx="2520" cy="2366" r="6"/></g>
<g id="n-transparent"><line class="l" x1="2547" y1="2308" x2="2634" y2="2308"/><text class="t" x="2557" y="2295">Transparent</text></g>
<g id="n-bgdl"><line class="l" x1="2547" y1="2366" x2="2686" y2="2366"/><text class="t" x="2557" y="2336"><tspan x="2557">Download in the</tspan><tspan x="2557" dy="16">background features</tspan></text></g>
<g id="n-placeholder"><line class="l" x1="2547" y1="2424" x2="2725" y2="2424"/><text class="t" x="2557" y="2394"><tspan x="2557">Placeholder better than not</tspan><tspan x="2557" dy="16">playing?</tspan></text></g>
<g id="n-install"><line class="l" x1="2430" y1="2466" x2="2531" y2="2466"/><text class="t" x="2440" y="2453">Installation</text><circle class="c" cx="2531" cy="2466" r="6"/></g>
<g id="n-alt2"><line class="l" x1="2559" y1="2466" x2="2624" y2="2466"/><text class="t" x="2569" y="2453">Altitude</text></g>
<g id="n-match"><line class="l" x1="2430" y1="2508" x2="2527" y2="2508"/><text class="t" x="2440" y="2495">Matchmaking</text></g>
<g id="n-leader"><line class="l" x1="2430" y1="2550" x2="2528" y2="2550"/><text class="t" x="2440" y="2537">Leaderboards</text></g>
<g id="n-achieve"><line class="l" x1="2430" y1="2592" x2="2530" y2="2592"/><text class="t" x="2440" y="2579">achievements</text></g>
<g id="n-shards"><line class="l" x1="2430" y1="2634" x2="2488" y2="2634"/><text class="t" x="2440" y="2621">Shards</text></g>
<g id="n-access"><line class="l" x1="2430" y1="2675" x2="2573" y2="2675"/><text class="t" x="2440" y="2662">Access of the service</text></g>
<g id="n-qa"><line class="l" x1="2303" y1="2812" x2="2451" y2="2812"/><text class="t b" x="2318" y="2793">QA/ testing</text><circle class="c" cx="2451" cy="2812" r="6"/></g>
<g id="n-involved"><line class="l" x1="2478" y1="2784" x2="2657" y2="2784"/><text class="t" x="2488" y="2771">Involved the community</text><circle class="c" cx="2657" cy="2784" r="6"/></g>
<g id="n-howeasy"><line class="l" x1="2684" y1="2734" x2="2847" y2="2734"/><text class="t" x="2694" y="2704"><tspan x="2694">How easy is it to report a</tspan><tspan x="2694" dy="16">problem?</tspan></text></g>
<g id="n-whatdata"><line class="l" x1="2684" y1="2807" x2="2873" y2="2807"/><text class="t" x="2694" y="2761"><tspan x="2694">What data are actually</tspan><tspan x="2694" dy="16">directly pulled from the place</tspan><tspan x="2694" dy="16">of reporting</tspan></text></g>
<g id="n-testenv"><line class="l" x1="2684" y1="2850" x2="2803" y2="2850"/><text class="t" x="2694" y="2837">Test environment</text></g>
<g id="n-inform"><line class="l" x1="2478" y1="2892" x2="2627" y2="2892"/><text class="t" x="2488" y="2879">Inform the community</text></g>
<g id="n-community"><line class="l" x1="2303" y1="3151" x2="2454" y2="3151"/><text class="t b" x="2318" y="3132">Community</text><circle class="c" cx="2454" cy="3151" r="6"/></g>
<g id="n-forums"><line class="l" x1="2481" y1="2934" x2="2542" y2="2934"/><text class="t" x="2491" y="2921">Forums</text></g>
<g id="n-fb"><line class="l" x1="2481" y1="2976" x2="2581" y2="2976"/><text class="t" x="2491" y="2963">FB integration</text></g>
<g id="n-twitter"><line class="l" x1="2481" y1="3018" x2="2541" y2="3018"/><text class="t" x="2491" y="3005">Twitter</text></g>
<g id="n-buddy"><line class="l" x1="2481" y1="3060" x2="2561" y2="3060"/><text class="t" x="2491" y="3047">Buddy List</text></g>
<g id="n-guild"><line class="l" x1="2481" y1="3144" x2="2592" y2="3144"/><text class="t" x="2491" y="3131">Guild design</text><circle class="c" cx="2592" cy="3144" r="6"/></g>
<g id="n-sophis"><line class="l" x1="2619" y1="3102" x2="2793" y2="3102"/><text class="t" x="2629" y="3089">Can get very sophisticated</text></g>
<g id="n-gservices"><line class="l" x1="2619" y1="3165" x2="2747" y2="3165"/><text class="t" x="2629" y="3152">Guild "services"</text><circle class="c" cx="2747" cy="3165" r="6"/></g>
<g id="n-hosted"><line class="l" x1="2774" y1="3144" x2="2870" y2="3144"/><text class="t" x="2784" y="3131">hosted space</text></g>
<g id="n-subforums"><line class="l" x1="2774" y1="3186" x2="2913" y2="3186"/><text class="t" x="2784" y="3173">forums / sub-forums</text></g>
<g id="n-crowd"><line class="l" x1="2481" y1="3249" x2="2641" y2="3249"/><text class="t" x="2491" y="3236">Crowdsourcing tools</text><circle class="c" cx="2641" cy="3249" r="6"/></g>
<g id="n-getsat"><line class="l" x1="2668" y1="3228" x2="2907" y2="3228"/><text class="t k" x="2678" y="3215">http://getsatisfaction.com/why/#how</text></g>
<g id="n-uservoice"><line class="l" x1="2668" y1="3270" x2="2899" y2="3270"/><text class="t k" x="2678" y="3257">https://uservoice.com/how_it_works</text></g>
<g id="n-wiki"><line class="l" x1="2481" y1="3312" x2="2523" y2="3312"/><text class="t" x="2491" y="3299">Wiki</text></g>
<g id="n-mods"><line class="l" x1="2481" y1="3354" x2="2535" y2="3354"/><text class="t" x="2491" y="3341">MODs</text></g>
<g id="n-web"><line class="l" x1="2303" y1="3411" x2="2390" y2="3411"/><text class="t b" x="2318" y="3392">Web</text><circle class="c" cx="2390" cy="3411" r="6"/></g>
<g id="n-armoury"><line class="l" x1="2417" y1="3404" x2="2485" y2="3404"/><text class="t" x="2427" y="3391">Armoury</text></g>
<g id="n-marketing"><line class="l" x1="2303" y1="3481" x2="2488" y2="3481"/><text class="t b" x="2318" y="3462">Marketing/CRM</text><circle class="c" cx="2488" cy="3481" r="6"/></g>
<g id="n-newsletter"><line class="l" x1="2515" y1="3453" x2="2597" y2="3453"/><text class="t" x="2525" y="3440">Newsletter</text></g>
<g id="n-custint"><line class="l" x1="2515" y1="3495" x2="2656" y2="3495"/><text class="t" x="2525" y="3482">Customer interaction</text></g>
<g id="n-bizmodel"><line class="l" x1="2303" y1="3552" x2="2473" y2="3552"/><text class="t b" x="2318" y="3533">Business Model</text></g>
<g id="n-legal"><line class="l" x1="2303" y1="3609" x2="2391" y2="3609"/><text class="t b" x="2318" y="3590">Legal?</text></g>
<g id="n-comm2"><line class="l" x1="2303" y1="3714" x2="2435" y2="3714"/><text class="t" x="2314" y="3701">Communication</text><circle class="c" cx="2435" cy="3714" r="6"/></g>
<g id="n-im"><line class="l" x1="2463" y1="3651" x2="2496" y2="3651"/><text class="t" x="2473" y="3638">IM</text></g>
<g id="n-messaging"><line class="l" x1="2463" y1="3693" x2="2543" y2="3693"/><text class="t" x="2473" y="3680">Messaging</text></g>
<g id="n-motd"><line class="l" x1="2463" y1="3735" x2="2519" y2="3735"/><text class="t" x="2473" y="3722">MOTD</text></g>
<g id="n-chatch2"><line class="l" x1="2463" y1="3777" x2="2563" y2="3777"/><text class="t" x="2473" y="3764">Chat channels</text></g>
<g id="n-custsup2"><line class="l" x1="2303" y1="3819" x2="2429" y2="3819"/><text class="t" x="2314" y="3806">Customer support</text></g>
<g id="n-intro"><line class="l" x1="815" y1="1993" x2="1073" y2="1993"/><text class="t b" x="848" y="1974">intro Defining Service</text><circle class="c" cx="815" cy="1993" r="6"/></g>
<g id="n-defining"><line class="l" x1="656" y1="1720" x2="788" y2="1720"/><text class="t e" x="778" y="1707">Defining service</text><circle class="c" cx="656" cy="1720" r="6"/></g>
<g id="n-wikidef"><line class="l" x1="511" y1="1447" x2="629" y2="1447"/><text class="t e" x="619" y="1434">Wikipedia def</text><circle class="c" cx="511" cy="1447" r="6"/></g>
<g id="n-wikilink"><line class="l" x1="138" y1="1342" x2="484" y2="1342"/><text class="t e k" x="474" y="1329">http://en.wikipedia.org/wiki/Service_%28economics%29</text></g>
<g id="n-intang1"><line class="l" x1="408" y1="1384" x2="484" y2="1384"/><text class="t e" x="474" y="1371">Intangible</text></g>
<g id="n-perish1"><line class="l" x1="406" y1="1426" x2="484" y2="1426"/><text class="t e" x="474" y="1413">Perishable</text></g>
<g id="n-insep1"><line class="l" x1="399" y1="1468" x2="484" y2="1468"/><text class="t e" x="474" y="1455">Inseparable</text></g>
<g id="n-simul1"><line class="l" x1="387" y1="1510" x2="484" y2="1510"/><text class="t e" x="474" y="1497">Simultaneous</text></g>
<g id="n-var1"><line class="l" x1="419" y1="1552" x2="484" y2="1552"/><text class="t e" x="474" y="1539">Variable</text></g>
<g id="n-appgame"><line class="l" x1="495" y1="1593" x2="629" y2="1593"/><text class="t e" x="619" y="1580">application to game</text></g>
<g id="n-allabout"><line class="l" x1="541" y1="1699" x2="629" y2="1699"/><text class="t e" x="619" y="1686">all about</text><circle class="c" cx="541" cy="1699" r="6"/></g>
<g id="n-brand"><line class="l" x1="463" y1="1636" x2="513" y2="1636"/><text class="t e" x="503" y="1623">brand</text></g>
<g id="n-longtail"><line class="l" x1="450" y1="1678" x2="513" y2="1678"/><text class="t e" x="503" y="1665">long tail</text></g>
<g id="n-profit"><line class="l" x1="430" y1="1720" x2="513" y2="1720"/><text class="t e" x="503" y="1707">more profit</text></g>
<g id="n-risks"><line class="l" x1="445" y1="1762" x2="513" y2="1762"/><text class="t e" x="503" y="1749">less risks</text></g>
<g id="n-gameserv"><line class="l" x1="440" y1="1930" x2="627" y2="1930"/><text class="t e" x="617" y="1917">example of game services</text><circle class="c" cx="440" cy="1930" r="6"/></g>
<g id="n-mmos"><line class="l" x1="356" y1="1804" x2="413" y2="1804"/><text class="t e" x="403" y="1791">MMOs</text></g>
<g id="n-online"><line class="l" x1="294" y1="1867" x2="413" y2="1867"/><text class="t e" x="403" y="1854">Online games</text><circle class="c" cx="294" cy="1867" r="6"/></g>
<g id="n-rockband"><line class="l" x1="188" y1="1846" x2="266" y2="1846"/><text class="t e" x="256" y="1833">Rock Band</text></g>
<g id="n-cod"><line class="l" x1="225" y1="1888" x2="266" y2="1888"/><text class="t e" x="256" y="1875">CoD</text></g>
<g id="n-social"><line class="l" x1="318" y1="1930" x2="413" y2="1930"/><text class="t e" x="403" y="1917">Social games</text></g>
<g id="n-iphone"><line class="l" x1="280" y1="1972" x2="413" y2="1972"/><text class="t e" x="403" y="1959">iPhone/ Android</text><circle class="c" cx="280" cy="1972" r="6"/></g>
<g id="n-notall"><line class="l" x1="147" y1="1972" x2="252" y2="1972"/><text class="t e" x="242" y="1959">Not all of them</text></g>
<g id="n-consoles"><line class="l" x1="320" y1="2035" x2="413" y2="2035"/><text class="t e" x="403" y="2022">Consoles</text><circle class="c" cx="320" cy="2035" r="6"/></g>
<g id="n-xbla"><line class="l" x1="113" y1="2014" x2="294" y2="2014"/><text class="t e" x="284" y="2001">XBLA / Xbox live experience</text></g>
<g id="n-psn"><line class="l" x1="250" y1="2056" x2="294" y2="2056"/><text class="t e" x="284" y="2043">PSN</text></g>
<g id="n-matter"><line class="l" x1="459" y1="2098" x2="627" y2="2098"/><text class="t e" x="617" y="2085">A Matter of How and Why</text></g>
<g id="n-always"><line class="l" x1="598" y1="2356" x2="789" y2="2356"/><text class="t" x="627" y="2326"><tspan x="627">service has always existed</tspan><tspan x="627" dy="16">for games</tspan></text><circle class="c" cx="598" cy="2356" r="6"/></g>
<g id="n-diffform"><line class="l" x1="449" y1="2182" x2="571" y2="2182"/><text class="t e" x="561" y="2169">Different form</text><circle class="c" cx="449" cy="2182" r="6"/></g>
<g id="n-collector"><line class="l" x1="306" y1="2140" x2="422" y2="2140"/><text class="t e" x="412" y="2127">Collector edition</text></g>
<g id="n-expansion"><line class="l" x1="307" y1="2182" x2="422" y2="2182"/><text class="t e" x="412" y="2169">Expansion packs</text></g>
<g id="n-highscore"><line class="l" x1="340" y1="2224" x2="422" y2="2224"/><text class="t e" x="412" y="2211">High score</text></g>
<g id="n-expand"><line class="l" x1="436" y1="2282" x2="571" y2="2282"/><text class="t" x="444" y="2252"><tspan x="444">Need to expand and</tspan><tspan x="444" dy="16">embrace further</tspan></text></g>
<g id="n-wikidefi"><line class="l" x1="428" y1="2440" x2="571" y2="2440"/><text class="t e" x="561" y="2427">Wikipedia defition</text><circle class="c" cx="428" cy="2440" r="6"/></g>
<g id="n-intang2"><line class="l" x1="304" y1="2324" x2="400" y2="2324"/><text class="t e" x="390" y="2311">Intangible</text><circle class="c" cx="304" cy="2324" r="6"/></g>
<g id="n-digital"><line class="l" x1="222" y1="2324" x2="276" y2="2324"/><text class="t e" x="266" y="2311">Digital</text></g>
<g id="n-perish2"><line class="l" x1="302" y1="2374" x2="400" y2="2374"/><text class="t e" x="390" y="2361">Perishable</text><circle class="c" cx="302" cy="2374" r="6"/></g>
<g id="n-dontplay"><line class="l" x1="112" y1="2382" x2="276" y2="2382"/><text class="t" x="119" y="2352"><tspan x="119">When you don't play, it is</tspan><tspan x="119" dy="16">not a game</tspan></text></g>
<g id="n-insep2"><line class="l" x1="294" y1="2440" x2="400" y2="2440"/><text class="t e" x="390" y="2427">Inseperable</text><circle class="c" cx="294" cy="2440" r="6"/></g>
<g id="n-notsure"><line class="l" x1="50" y1="2456" x2="268" y2="2456"/><text class="t" x="58" y="2410"><tspan x="58">Not sure on this one. No service</tspan><tspan x="58" dy="16">provider so to speak. Except some</tspan><tspan x="58" dy="16">instances (Arcade machines)</tspan></text></g>
<g id="n-simul2"><line class="l" x1="282" y1="2498" x2="400" y2="2498"/><text class="t e" x="390" y="2485">Simultaneous</text><circle class="c" cx="282" cy="2498" r="6"/></g>
<g id="n-obvious"><line class="l" x1="164" y1="2498" x2="255" y2="2498"/><text class="t e" x="245" y="2485">Obivous one</text></g>
<g id="n-var2"><line class="l" x1="315" y1="2548" x2="400" y2="2548"/><text class="t e" x="390" y="2535">Variable</text><circle class="c" cx="315" cy="2548" r="6"/></g>
<g id="n-unique"><line class="l" x1="116" y1="2556" x2="288" y2="2556"/><text class="t" x="125" y="2526"><tspan x="125">Each experience is unique,</tspan><tspan x="125" dy="16">that's the nature of games</tspan></text></g>
<g id="n-disclaimer"><line class="l" x1="583" y1="2630" x2="789" y2="2630"/><text class="t" x="592" y="2584"><tspan x="592">Disclaimer § May not be true for</tspan><tspan x="592" dy="16">other people definition of a</tspan><tspan x="592" dy="16">service</tspan></text></g>
</svg>
